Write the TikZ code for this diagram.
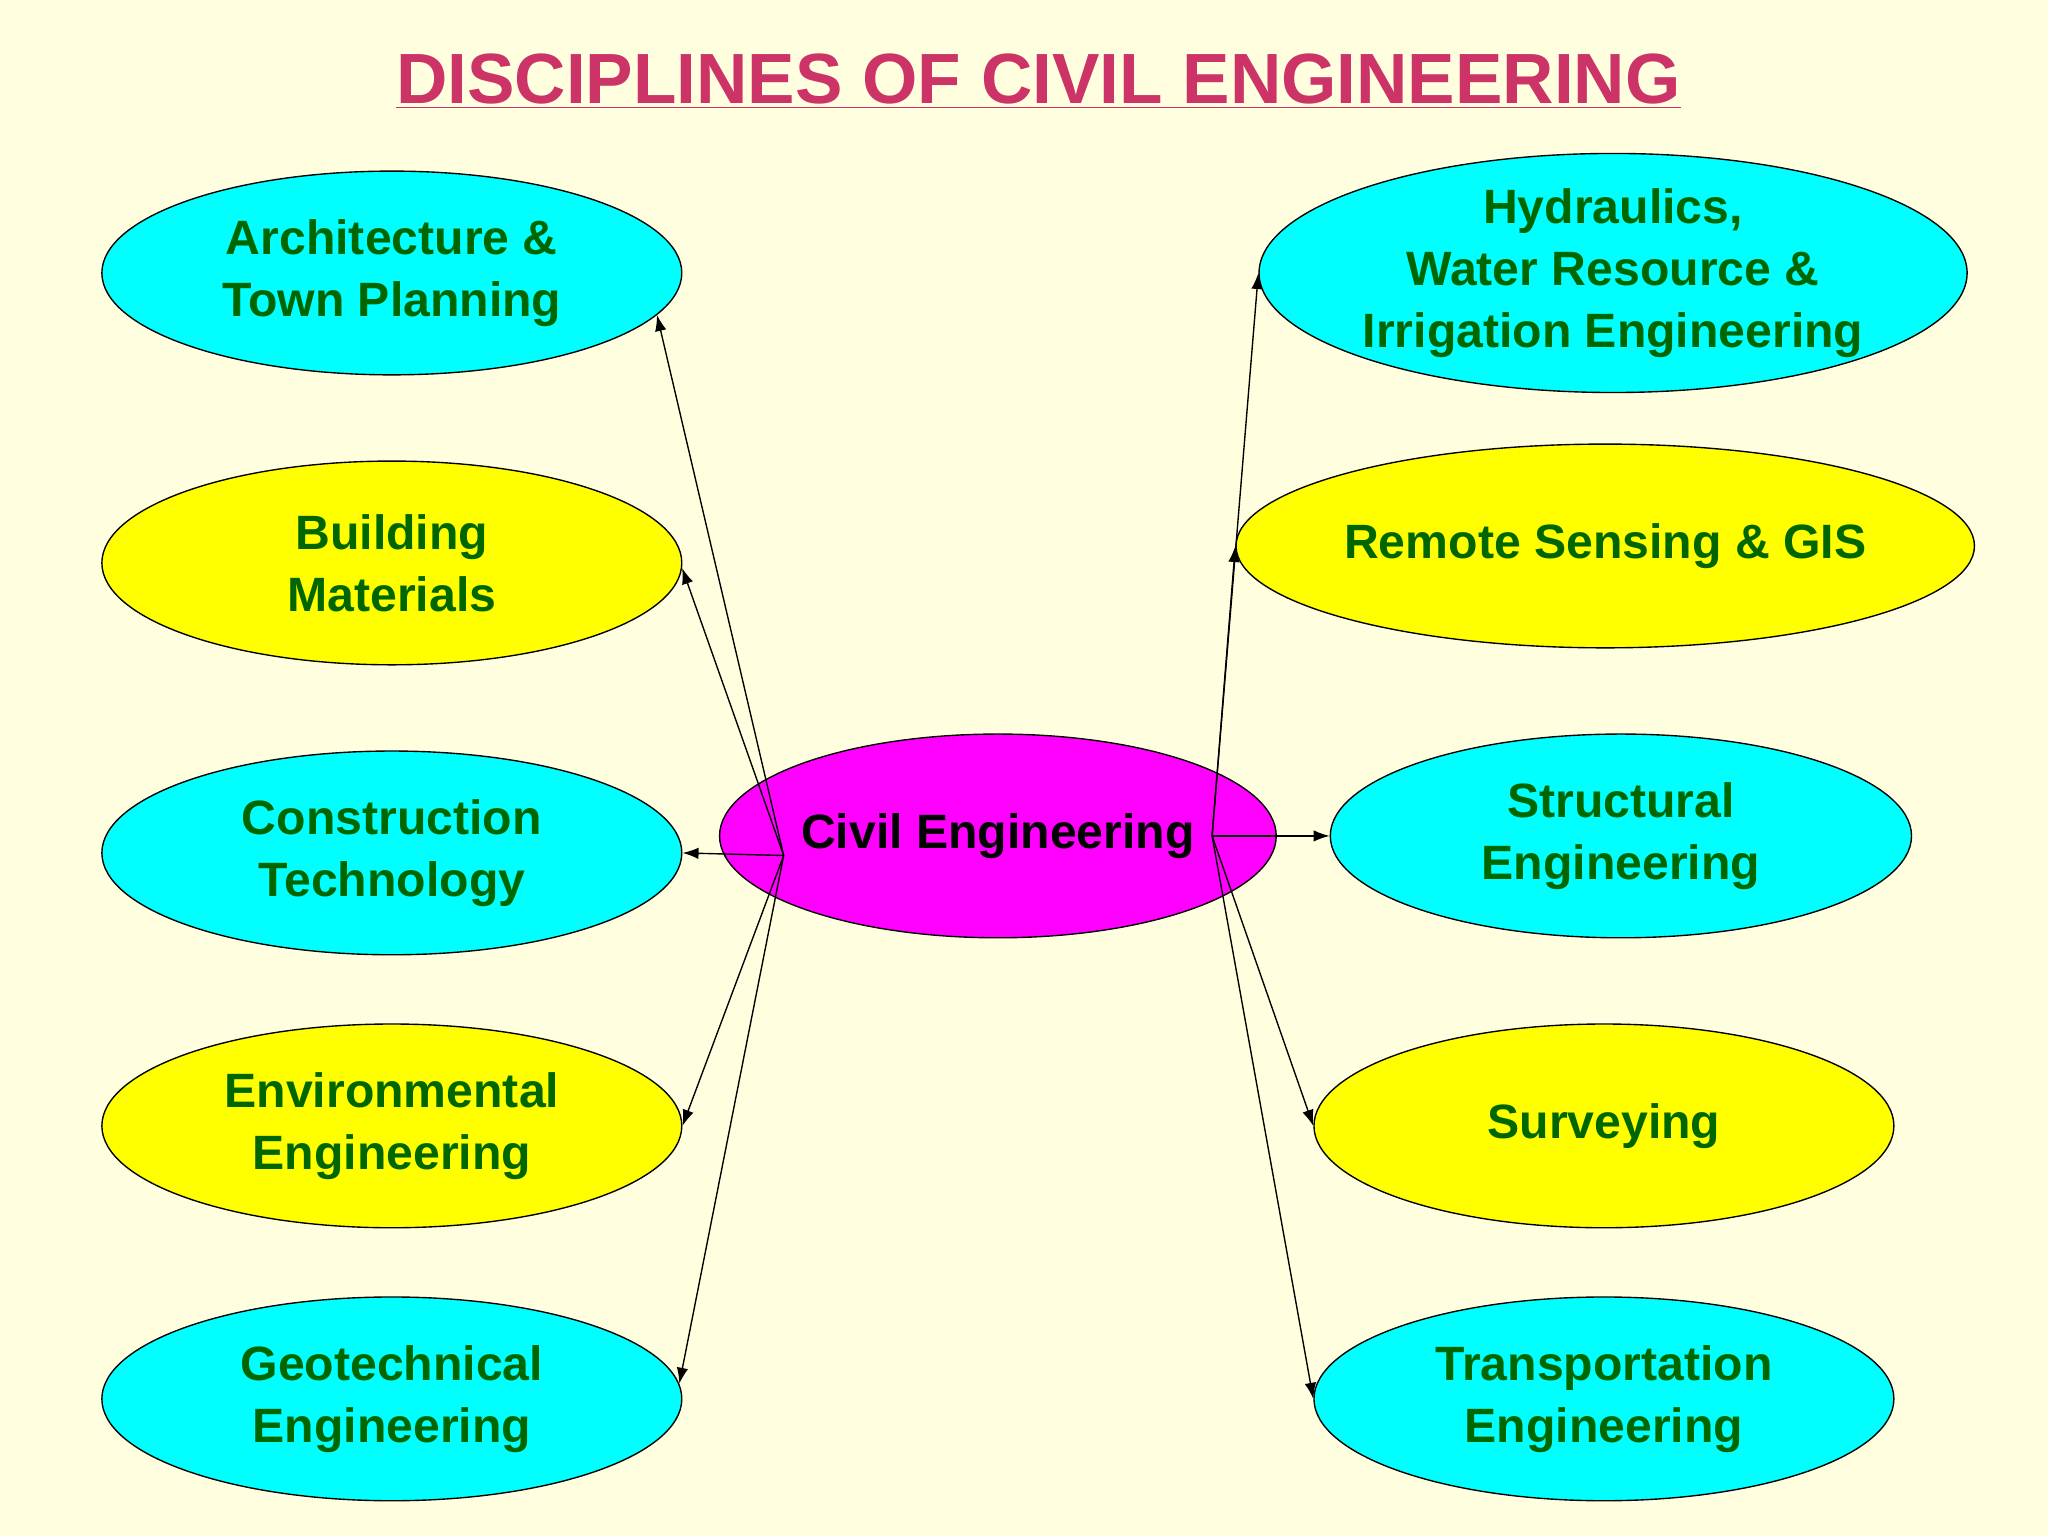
\documentclass[tikz,border=0pt]{standalone}
\usepackage{fontspec}
\setmainfont{Liberation Sans}
\usetikzlibrary{shapes.geometric,arrows.meta}
\definecolor{bg}{RGB}{255,255,224}
\definecolor{cy}{RGB}{0,255,255}
\definecolor{ye}{RGB}{255,255,0}
\definecolor{ma}{RGB}{255,0,255}
\definecolor{tg}{RGB}{0,102,0}
\definecolor{tt}{RGB}{204,51,102}
\tikzset{
 disc/.style={ellipse,draw=black,line width=0.6pt,inner sep=0pt,align=center,
   text=tg,font=\fontsize{21}{27}\selectfont\bfseries,minimum width=444*0.02cm,minimum height=156*0.02cm},
 arr/.style={-{Latex[length=7pt,width=5pt]},line width=0.6pt}
}
\begin{document}
\begin{tikzpicture}[x=0.02cm,y=-0.02cm]
\fill[bg] (0,0) rectangle (1568,1176);
\useasboundingbox (0,0) rectangle (1568,1176);
\node[text=tt,font=\fontsize{31}{36}\selectfont\bfseries] (t) at (795,62) {\underline{DISCIPLINES OF CIVIL ENGINEERING}};
\node[disc,fill=cy] (a) at (300,209) {Architecture \&\\Town Planning};
\node[disc,fill=ye] (b) at (300,431) {Building\\Materials};
\node[disc,fill=cy] (c) at (300,653) {Construction\\Technology};
\node[disc,fill=ye] (d) at (300,862) {Environmental\\Engineering};
\node[disc,fill=cy] (e) at (300,1071) {Geotechnical\\Engineering};
\node[disc,fill=cy,minimum width=458*0.02cm,minimum height=182*0.02cm] (f) at (1235,209) {Hydraulics,\\Water Resource \&\\Irrigation Engineering};
\node[disc,fill=ye,minimum width=446*0.02cm] (g) at (1229,418) {Remote Sensing \& GIS};
\node[disc,fill=cy,minimum width=445*0.02cm] (h) at (1241,640) {Structural\\Engineering};
\node[disc,fill=ye] (i) at (1228,862) {Surveying};
\node[disc,fill=cy] (j) at (1228,1071) {Transportation\\Engineering};
\node[disc,fill=ma,text=black,minimum width=324*0.02cm] (m) at (764,640) {Civil Engineering};
\coordinate (L) at (600,655);
\coordinate (R) at (928,640);
\draw[arr] (L) -- (a.-9);
\draw[arr] (L) -- (b.-1);
\draw[arr] (L) -- (c.east);
\draw[arr] (L) -- (d.east);
\draw[arr] (L) -- (e.3);
\draw[arr] (R) -- (f.west);
\draw[arr] (R) -- (g.west);
\draw[arr] (R) -- (h.west);
\draw[arr] (R) -- (i.west);
\draw[arr] (R) -- (j.west);
\end{tikzpicture}
\end{document}
